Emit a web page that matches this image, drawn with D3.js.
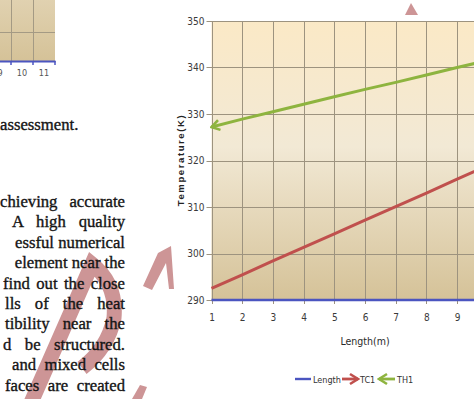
<!DOCTYPE html>
<html>
<head>
<meta charset="utf-8">
<script src="https://cdn.jsdelivr.net/npm/d3@7"></script>
<style>
  html, body { margin: 0; padding: 0; background: #fff; overflow: hidden; }
  svg { display: block; }
</style>
</head>
<body>
<svg id="page" width="474" height="399"></svg>
<script>
// ---- data ----
const lengths = [1, 2, 3, 4, 5, 6, 7, 8, 9, 10];
const tc1 = [292.5, 295.4, 298.4, 301.3, 304.2, 307.2, 310.1, 313.0, 316.0, 318.9];
const th1 = [327.2, 328.9, 330.5, 332.1, 333.7, 335.3, 336.8, 338.4, 340.0, 341.5];
const yTicks = [290, 300, 310, 320, 330, 340, 350];
const xTicks = [1, 2, 3, 4, 5, 6, 7, 8, 9, 10];
const seriesNames = ["Length", "TC1", "TH1"];
const yTitle = "Temperature(K)";
const xTitle = "Length(m)";

// corner of the previous figure on the page
const prevCats = [1, 2, 3, 4, 5, 6, 7, 8, 9, 10, 11];
const prevShown = [9, 10, 11];

// body text of the page (left column, clipped)
const topLine = "assessment.";
const bodyLines = [
  "chieving accurate",
  "A high quality",
  "essful numerical",
  "element near the",
  "find out the close",
  "lls of the heat",
  "tibility near the",
  "d be structured.",
  "and mixed cells",
  "faces are created"
];
const lineStart = [0, 12, 15, 15, 3, 5, 5, 3, 12, 5];

const colors = { Length: "#4b55c0", TC1: "#c0504d", TH1: "#8eb43f" };

const svg = d3.select("#page");
const defs = svg.append("defs");
const W = 474, colRight = 125;

function parchment(id, y1, y2) {
  const g = defs.append("linearGradient").attr("id", id)
    .attr("gradientUnits", "userSpaceOnUse")
    .attr("x1", 0).attr("x2", 0).attr("y1", y1).attr("y2", y2);
  g.append("stop").attr("offset", "0%").attr("stop-color", "#fbe9c6");
  g.append("stop").attr("offset", "45%").attr("stop-color", "#f2e9d5");
  g.append("stop").attr("offset", "100%").attr("stop-color", "#d5c298");
}

// ---- watermark (behind text) ----
const wm = svg.append("g").attr("class", "watermark").attr("fill", "#cd9596").attr("stroke", "#cd9596");
wm.append("path").attr("fill", "none").attr("stroke-width", 15).attr("stroke-linecap", "butt")
  .attr("d", "M30,405 L92,264 Q117,284 114,318 Q108,348 82,368");
wm.append("path").attr("stroke", "none")
  .attr("d", "M143,286 L158,253 L171,246 L174,289 L169,289 L166,263 L152,290 Z");
wm.append("path").attr("stroke", "none")
  .attr("d", "M132,399 L140,385 L147,387 L142,399 Z");
wm.append("path").attr("stroke", "none")
  .attr("d", "M405,15 L411,3 L418,15 Z");

const sansCond = "'DejaVu Sans Condensed','DejaVu Sans',sans-serif";

// ---- previous figure corner (top-left) ----
parchment("bgPrev", -220, 61);
const prevX = d3.scaleBand().domain(prevCats).range([55 - prevCats.length * 22, 55]);
const prev = svg.append("g").attr("class", "prev-chart");
prev.append("rect").attr("x", 0).attr("y", 0).attr("width", 55).attr("height", 61).attr("fill", "url(#bgPrev)");
prev.selectAll("line.vgrid").data(prevShown.slice(0, -1)).enter().append("line")
  .attr("class", "vgrid")
  .attr("x1", d => prevX(d) + prevX.bandwidth() + 0.5).attr("x2", d => prevX(d) + prevX.bandwidth() + 0.5)
  .attr("y1", 0).attr("y2", 61).attr("stroke", "#a49a84");
prev.append("line").attr("x1", 0).attr("x2", 55).attr("y1", 32.5).attr("y2", 32.5).attr("stroke", "#a49a84");
prev.append("g").attr("transform", "translate(0,61)")
  .call(d3.axisBottom(prevX).tickValues(prevShown).tickSize(0).tickPadding(9))
  .call(g => {
    g.select(".domain").attr("stroke", colors.Length).attr("stroke-width", 2);
    g.selectAll("text").attr("font-family", sansCond).attr("font-size", 9).attr("fill", "#555");
  });
prev.selectAll("line.ptick").data(prevShown).enter().append("line")
  .attr("class", "ptick")
  .attr("x1", d => prevX(d) + prevX.bandwidth()).attr("x2", d => prevX(d) + prevX.bandwidth())
  .attr("y1", 61).attr("y2", 65).attr("stroke", colors.Length).attr("stroke-width", 1.5);

// ---- body text (justified to the column edge) ----
const textG = svg.append("g")
  .attr("font-family", "'Liberation Serif','Times New Roman',serif")
  .attr("font-size", 16.7).attr("fill", "#141414")
  .attr("stroke", "#141414").attr("stroke-width", 0.35);
textG.append("text").attr("x", 0).attr("y", 130).text(topLine);
bodyLines.forEach((line, i) => {
  const t = textG.append("text").attr("y", 207 + i * 20.4).text(line);
  const spaces = (line.match(/ /g) || []).length;
  const w = t.node().getComputedTextLength();
  const extra = colRight - lineStart[i] - w;
  if (extra > 0 && spaces) {
    t.attr("x", lineStart[i]).attr("word-spacing", extra / spaces);
  } else {
    t.attr("x", colRight - w);
  }
});

// ---- main chart ----
const plot = { left: 211.5, top: 21, bottom: 300 };
const x = d3.scaleLinear().domain([1, 11]).range([plot.left, plot.left + 10 * 30.7]);
const y = d3.scaleLinear().domain([290, 350]).range([plot.bottom, plot.top]).clamp(true);
const right = x(11);

parchment("bgMain", plot.top, plot.bottom);
const chart = svg.append("g").attr("class", "main-chart");
chart.append("rect").attr("x", plot.left).attr("y", plot.top)
  .attr("width", right - plot.left).attr("height", plot.bottom - plot.top).attr("fill", "url(#bgMain)");

const gridColor = "#9d937f";
chart.append("g").attr("class", "grid-h").selectAll("line").data(yTicks).enter().append("line")
  .attr("x1", plot.left - 5).attr("x2", right)
  .attr("y1", d => Math.round(y(d)) + 0.5).attr("y2", d => Math.round(y(d)) + 0.5)
  .attr("stroke", gridColor);
chart.append("g").attr("class", "grid-v").selectAll("line").data(xTicks).enter().append("line")
  .attr("x1", d => Math.round(x(d)) + 0.5).attr("x2", d => Math.round(x(d)) + 0.5)
  .attr("y1", plot.top).attr("y2", plot.bottom + 4)
  .attr("stroke", gridColor);

chart.append("g").attr("transform", `translate(${plot.left - 6},0)`)
  .call(d3.axisLeft(y).tickValues(yTicks).tickSize(0).tickPadding(1))
  .call(g => {
    g.select(".domain").remove();
    g.selectAll("text").attr("font-family", sansCond).attr("font-size", 10).attr("fill", "#3a3a3a");
  });
chart.append("g").attr("transform", `translate(0,${plot.bottom})`)
  .call(d3.axisBottom(x).tickValues(xTicks.filter(d => x(d) + 5 < W))
    .tickFormat(d3.format("d")).tickSize(0).tickPadding(14))
  .call(g => {
    g.select(".domain").remove();
    g.selectAll("text").attr("font-family", sansCond).attr("font-size", 10).attr("fill", "#3a3a3a");
  });

chart.append("text").attr("transform", `translate(184,160) rotate(-90)`)
  .attr("text-anchor", "middle").attr("font-family", "'Liberation Sans','Arial',sans-serif")
  .attr("font-weight", "bold").attr("font-size", 9.5).attr("letter-spacing", 1.6).attr("fill", "#222")
  .text(yTitle);
chart.append("text").attr("x", 365).attr("y", 345).attr("text-anchor", "middle")
  .attr("font-family", sansCond).attr("font-size", 10.5).attr("fill", "#2a2a2a")
  .text(xTitle);

// arrow markers
function arrowMarker(id, color, orient) {
  defs.append("marker").attr("id", id)
    .attr("viewBox", "-11 -7 13 14").attr("refX", 0).attr("refY", 0)
    .attr("markerUnits", "userSpaceOnUse").attr("markerWidth", 13).attr("markerHeight", 14)
    .attr("orient", orient)
    .append("path").attr("d", "M-8,-5 L0,0 L-8,5")
    .attr("fill", "none").attr("stroke", color).attr("stroke-width", 2.6)
    .attr("stroke-linejoin", "miter");
}
arrowMarker("arrTC1", colors.TC1, "auto");
arrowMarker("arrTH1", colors.TH1, "auto-start-reverse");
arrowMarker("arrTH1L", colors.TH1, "auto");

const line = d3.line().x(d => x(d[0])).y(d => y(d[1]));
const series = [
  { name: "Length", values: lengths.map(v => [v, v]) },
  { name: "TC1", values: lengths.map((v, i) => [v, tc1[i]]) },
  { name: "TH1", values: lengths.map((v, i) => [v, th1[i]]) }
];
chart.append("g").attr("class", "series").selectAll("path").data(series).enter().append("path")
  .attr("d", d => line(d.values))
  .attr("fill", "none")
  .attr("stroke", d => colors[d.name])
  .attr("stroke-width", d => d.name === "Length" ? 2.4 : 3)
  .attr("marker-end", d => d.name === "TC1" ? "url(#arrTC1)" : null)
  .attr("marker-start", d => d.name === "TH1" ? "url(#arrTH1)" : null);

// legend
const legendX = [0, 47, 84];
const legend = svg.append("g").attr("class", "legend").attr("transform", "translate(295,379)");
const items = legend.selectAll("g").data(seriesNames).enter().append("g")
  .attr("transform", (d, i) => `translate(${legendX[i]},0)`);
items.append("line")
  .attr("x1", d => d === "TH1" ? 16 : 0).attr("x2", d => d === "TH1" ? 0 : 16)
  .attr("y1", 0).attr("y2", 0)
  .attr("stroke", d => colors[d]).attr("stroke-width", d => d === "Length" ? 2.4 : 2.8)
  .attr("marker-end", d => d === "TC1" ? "url(#arrTC1)" : (d === "TH1" ? "url(#arrTH1L)" : null));
items.append("text").attr("x", 18).attr("y", 3.5)
  .attr("font-family", sansCond).attr("font-size", 9).attr("fill", "#333")
  .text(d => d);
</script>
</body>
</html>
